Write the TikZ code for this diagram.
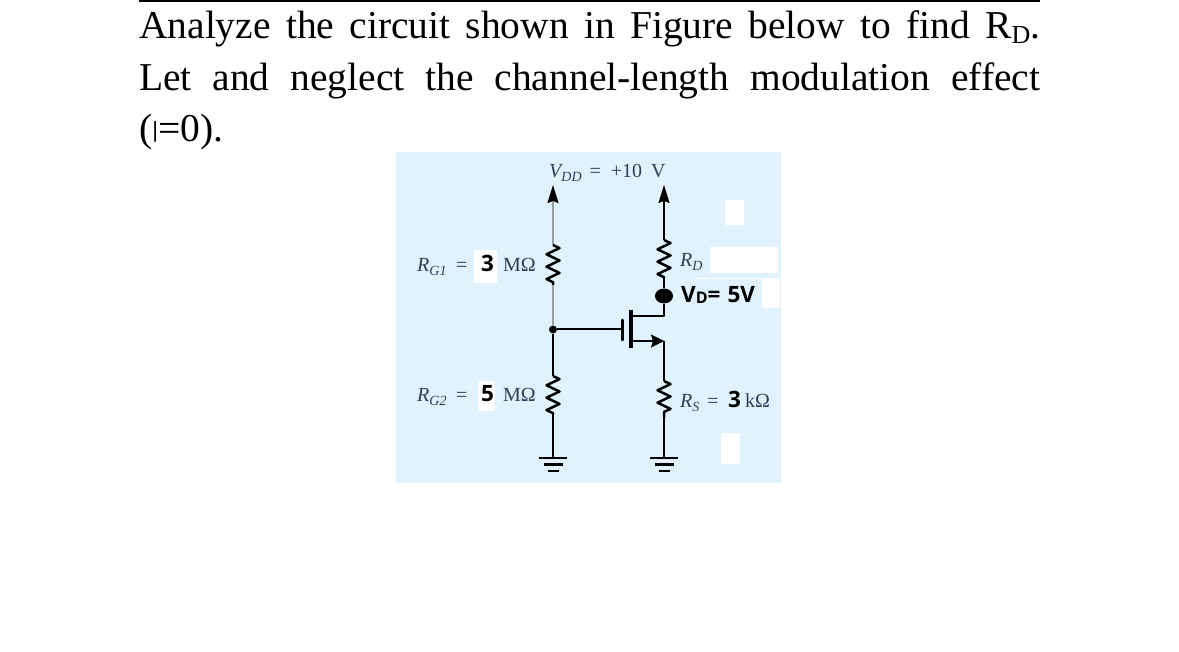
\documentclass[tikz,border=0pt]{standalone}
\usepackage{fontspec}
\setmainfont{Liberation Serif}
\newfontfamily\digfont{Open Sans}
\newfontfamily\barfont{Liberation Sans}
\usetikzlibrary{arrows.meta,decorations.pathmorphing,shapes.geometric}
\definecolor{panel}{HTML}{E0F2FE}
\definecolor{lab}{HTML}{2F3E55}
\definecolor{wiregray}{HTML}{9A9FA3}
\newcommand{\Lab}[2]{{\itshape #1}\raisebox{-3.5pt}{\fontsize{14}{14}\selectfont\itshape #2}}
\tikzset{
  x=1pt,y=-1pt,
  wire/.style={line width=2pt,black,line join=round},
  graywire/.style={line width=2.4pt,wiregray},
  resistor/.style={line width=2.5pt,black,line join=round,decorate,decoration={zigzag,segment length=12.4pt,amplitude=6.5pt}},
  uparrow/.style={wire,-{Stealth[inset=2pt,length=18pt,width=11pt,black]}},
  srcarrow/.style={wire,-{Stealth[inset=2pt,length=13pt,width=13pt]}},
  bar/.style={line width=2.8pt,black},
  patch/.style={fill=white,draw=none},
  title/.style={inner sep=0pt,anchor=base west,font=\fontsize{39.5}{51}\selectfont},
  tiny/.style={inner sep=0pt,anchor=base west,text=lab,font=\fontsize{20}{20}\selectfont},
  big/.style={inner sep=0pt,anchor=base west,text=black,font=\digfont\bfseries\fontsize{22.5}{23}\selectfont},
  dot/.style={circle,fill=black,inner sep=0pt,minimum size=8pt},
  bigdot/.style={ellipse,fill=black,inner sep=0pt,minimum width=18pt,minimum height=15pt},
}
\begin{document}
\begin{tikzpicture}
\useasboundingbox (0,0) rectangle (1179,652);
\fill[white] (0,0) rectangle (1179,652);
% title
\draw[line width=1.8pt] (139,1) -- (1040,1);
\node[title] (head1) at (139,39) {\makebox[901pt][s]{Analyze the circuit shown in Figure below to find R\raisebox{-5pt}{\fontsize{26}{26}\selectfont D}.}};
\node[title] (head2) at (139,91) {\makebox[901pt][s]{Let and neglect the channel-length modulation effect}};
\node[title] (head3) at (139,142) {({\barfont\raisebox{4pt}{\fontsize{22}{22}\selectfont|}}=0).};
% panel
\fill[panel] (396,152) rectangle (781,483);
\fill[patch] (725,200) rectangle (744,225);
\fill[patch] (710,247) rectangle (778,273);
\fill[patch] (762,279) rectangle (780,308);
\fill[patch] (695,278.5) rectangle (780,279.5);
\fill[patch] (474,250) rectangle (497,283);
\fill[patch] (478,381) rectangle (495,411);
\fill[patch] (721,433) rectangle (740,464);
% coordinates
\coordinate (topL) at (553,185);
\coordinate (topR) at (664,185);
\coordinate (r1a) at (553,245);
\coordinate (r1b) at (553,285);
\coordinate (r2a) at (553,376);
\coordinate (r2b) at (553,414);
\coordinate (rda) at (664,240);
\coordinate (rdb) at (664,278);
\coordinate (rsa) at (664,381);
\coordinate (rsb) at (664,418);
\coordinate (drainC) at (631,316);
\coordinate (drainT) at (664,316);
\coordinate (srcC) at (631,341);
\coordinate (srcT) at (664,341);
\coordinate (chT) at (631,310);
\coordinate (chB) at (631,348);
\coordinate (gT) at (622.5,320);
\coordinate (gB) at (622.5,340);
\coordinate (gM) at (622.5,329.5);
\coordinate (gndL) at (553,457);
\coordinate (gndR) at (664,457);
\node[dot] (gj) at (553,329.5) {};
\node[bigdot] (dd) at (664,296) {};
% wires
\draw[graywire] (gj) -- (r1b);
\draw[uparrow,draw=wiregray] (r1a) -- (topL);
\draw[uparrow] (rda) -- (topR);
\draw[resistor] (r1a) -- (r1b);
\draw[resistor] (rda) -- (rdb);
\draw[wire] (rdb) -- (dd);
\draw[wire] (dd) -- (drainT) -- (drainC);
\draw[wire] (gj) -- (gM);
\draw[line width=2.6pt,line cap=round] (gT) -- (gB);
\draw[line width=3.6pt] (chT) -- (chB);
\draw[srcarrow] (srcC) -- (srcT);
\draw[wire] (srcT) -- (rsa);
\draw[resistor] (rsa) -- (rsb);
\draw[wire] (rsb) -- (gndR);
\draw[wire] (gj) -- (r2a);
\draw[resistor] (r2a) -- (r2b);
\draw[wire] (r2b) -- (gndL);
% grounds
\foreach \g in {gndL,gndR}{
  \draw[bar] ([xshift=-14pt,yshift=-1pt]\g) -- ([xshift=14pt,yshift=-1pt]\g);
  \draw[bar] ([xshift=-9.5pt,yshift=-7.5pt]\g) -- ([xshift=9.5pt,yshift=-7.5pt]\g);
  \draw[bar] ([xshift=-5.5pt,yshift=-14pt]\g) -- ([xshift=5.5pt,yshift=-14pt]\g);
}
% labels
\node[tiny] (vdd) at (549,178) {\Lab{V}{DD}\hspace{8pt}=\hspace{10pt}+10\hspace{9pt}V};
\node[tiny] (rg1) at (417,272) {\Lab{R}{G1}};
\node[tiny] (eq1) at (456,272) {=};
\node[big] (three) at (481,272) {3};
\node[tiny] (mo1) at (503,272) {MΩ};
\node[tiny] (rd) at (680,267) {\Lab{R}{D}};
\node[big] (vd) at (681,303) {V\raisebox{-1pt}{\fontsize{16}{16}\selectfont D}=\hspace{7pt}5V};
\node[tiny] (rg2) at (417,402) {\Lab{R}{G2}};
\node[tiny] (eq2) at (456,402) {=};
\node[big] (five) at (481,402) {5};
\node[tiny] (mo2) at (503,402) {MΩ};
\node[tiny] (rs) at (680,408) {\Lab{R}{S}};
\node[tiny] (eq3) at (707,408) {=};
\node[big] (threeb) at (728,408) {3};
\node[tiny] (ko) at (745,408) {kΩ};
\end{tikzpicture}
\end{document}
